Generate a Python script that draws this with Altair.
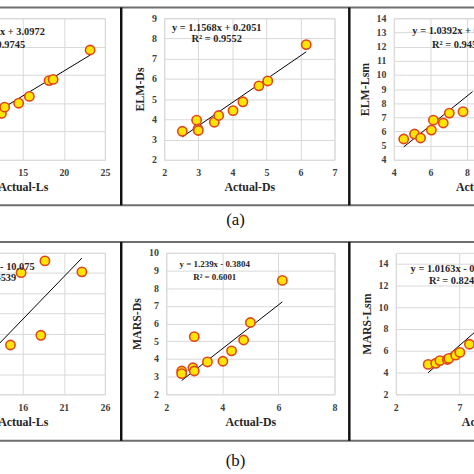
import altair as alt
import pandas as pd

FONT = "Liberation Serif"

# ---------------- values ----------------
# (a) ELM models : actual (x) vs predicted (y)
elm_ls_actual = [12.4, 12.8, 14.5, 15.8, 18.2, 18.7, 23.2]
elm_ls_pred = [13.2, 14.3, 15.0, 16.2, 19.0, 19.2, 24.4]
elm_ds_actual = [2.53, 2.95, 2.99, 3.00, 3.47, 3.60, 4.02, 4.31, 4.78, 5.04, 6.17]
elm_ds_pred = [3.41, 3.96, 3.52, 3.45, 3.86, 4.19, 4.43, 4.87, 5.66, 5.90, 7.70]
elm_lsm_actual = [4.54, 5.13, 5.46, 6.05, 6.16, 6.70, 7.03, 7.78]
elm_lsm_pred = [5.47, 5.82, 5.54, 6.10, 6.80, 6.60, 7.30, 7.40]

# (b) MARS models
mars_ls_actual = [14.5, 15.8, 18.2, 18.7, 23.2]
mars_ls_pred = [17.2, 35.1, 19.6, 38.0, 35.3]
mars_ds_actual = [2.55, 2.55, 2.95, 3.00, 3.00, 3.47, 4.02, 4.33, 4.76, 5.00, 6.14]
mars_ds_pred = [3.32, 3.17, 3.50, 3.32, 5.26, 3.83, 3.87, 4.46, 5.07, 6.06, 8.44]
mars_lsm_actual = [4.54, 5.13, 5.46, 6.05, 6.16, 6.70, 7.03, 7.78]
mars_lsm_pred = [4.75, 4.85, 5.10, 5.20, 5.30, 5.60, 5.85, 6.60]

# trend lines: slope, intercept, x start, x end
fit_elm_ls = [0.8790, 3.0972, 12.0, 23.2]
fit_elm_ds = [1.1568, 0.2051, 2.53, 6.17]
fit_elm_lsm = [1.0392, 0.1924, 4.54, 8.3]
fit_mars_ls = [2.1024, -10.075, 12.0, 23.2]
fit_mars_ds = [1.239, -0.3804, 2.55, 6.14]
fit_mars_lsm = [1.0163, -0.6254, 4.54, 8.2]

# equation labels
eq_elm_ls = ["y = 0.8790x + 3.0972", "R² = 0.9745"]
eq_elm_ds = ["y = 1.1568x + 0.2051", "R² = 0.9552"]
eq_elm_lsm = ["y = 1.0392x + 0.1924", "R² = 0.9451"]
eq_mars_ls = ["y = 2.1024x - 10.075", "R² = 0.4539"]
eq_mars_ds = ["y = 1.239x - 0.3804", "R² = 0.6001"]
eq_mars_lsm = ["y = 1.0163x - 0.6254", "R² = 0.8246"]

# axis tick values
xt_ls_a = [5, 10, 15, 20, 25]
yt_ls_a = [5, 10, 15, 20, 25, 30]
xt_ds_a = [2, 3, 4, 5, 6, 7]
yt_ds_a = [2, 3, 4, 5, 6, 7, 8, 9]
xt_lsm_a = [4, 6, 8, 10, 12, 14]
yt_lsm_a = [4, 5, 6, 7, 8, 9, 10, 11, 12, 13, 14]
xt_ls_b = [6, 11, 16, 21, 26]
yt_ls_b = [5, 10, 15, 20, 25, 30, 35, 40]
xt_ds_b = [2, 4, 6, 8]
yt_ds_b = [2, 3, 4, 5, 6, 7, 8, 9, 10]
xt_lsm_b = [2, 7, 12, 17]
yt_lsm_b = [2, 4, 6, 8, 10, 12, 14]

# axis titles
x_titles = ["Actual-Ls", "Actual-Ds", "Actual-Lsm"]
y_titles_a = ["ELM-Ls", "ELM-Ds", "ELM-Lsm"]
y_titles_b = ["MARS-Ls", "MARS-Ds", "MARS-Lsm"]
panel_labels = ["(a)", "(b)"]

MARK_FILL = "#FFE600"
MARK_STROKE = "#E0461C"
GRID = "#d9d9d9"

one = pd.DataFrame({"k": [0]})


def panel(xs, ys, fit, eq, xdom, xvals, ydom, yvals, xtitle, ytitle,
          w, h, eqpos, eqsize, extras=()):
    pts = pd.DataFrame({"x": xs, "y": ys})
    s, b, lo, hi = fit
    line = pd.DataFrame({"x": [lo, hi], "y": [s * lo + b, s * hi + b]})
    xsc = alt.Scale(domain=xdom, nice=False, zero=False)
    ysc = alt.Scale(domain=ydom, nice=False, zero=False)

    def xax():
        return alt.Axis(values=xvals, tickCount=len(xvals), title=xtitle,
                        grid=True, ticks=False, domain=False, labelPadding=8,
                        titlePadding=4, labelFlush=False, labelOverlap=False,
                        labelSeparation=0, format="d")

    def yax():
        return alt.Axis(values=yvals, tickCount=len(yvals), title=ytitle,
                        grid=True, ticks=False, domain=False, labelPadding=8,
                        titlePadding=5, labelOverlap=False, labelSeparation=0,
                        format="d")

    ln = alt.Chart(line).mark_line(color="black", strokeWidth=1).encode(
        x=alt.X("x:Q", scale=xsc, axis=xax()),
        y=alt.Y("y:Q", scale=ysc, axis=yax()),
    )
    pt = alt.Chart(pts).mark_circle(
        size=88, fill=MARK_FILL, stroke=MARK_STROKE, strokeWidth=1.6, opacity=1
    ).encode(
        x=alt.X("x:Q", scale=xsc, axis=xax()),
        y=alt.Y("y:Q", scale=ysc, axis=yax()),
    )
    cx, y1, y2 = eqpos
    t1 = alt.Chart(one).mark_text(
        font=FONT, fontSize=eqsize, fontWeight="bold", color="#262626",
        baseline="middle", align="center"
    ).encode(x=alt.value(cx), y=alt.value(y1), text=alt.value(eq[0]))
    t2 = alt.Chart(one).mark_text(
        font=FONT, fontSize=eqsize, fontWeight="bold", color="#262626",
        baseline="middle", align="center"
    ).encode(x=alt.value(cx), y=alt.value(y2), text=alt.value(eq[1]))
    return alt.layer(ln, pt, t1, t2, *extras).properties(width=w, height=h)


def frame_layers(vx1, vx2, top, bottom, label, lx, ly):
    vert = [
        alt.Chart(one).mark_rule(color="#111111", strokeWidth=2.5).encode(
            x=alt.value(v), y=alt.value(top), y2=alt.value(bottom))
        for v in (vx1, vx2)
    ]
    hor = [
        alt.Chart(one).mark_rule(color="#6e6e6e", strokeWidth=2).encode(
            x=alt.value(-300), x2=alt.value(320), y=alt.value(v))
        for v in (top, bottom)
    ]
    lab = alt.Chart(one).mark_text(
        font=FONT, fontSize=17, color="#111111", baseline="middle", align="center"
    ).encode(x=alt.value(lx), y=alt.value(ly), text=alt.value(label))
    return hor + vert + [lab]


# ---------------- row (a) ----------------
a1 = panel(elm_ls_actual, elm_ls_pred, fit_elm_ls, eq_elm_ls,
           [5, 25], xt_ls_a, [5, 30], yt_ls_a,
           x_titles[0], y_titles_a[0], 166, 143, (60, 14, 27), 10.5)
a2 = panel(elm_ds_actual, elm_ds_pred, fit_elm_ds, eq_elm_ds,
           [2, 7], xt_ds_a, [2, 9], yt_ds_a,
           x_titles[1], y_titles_a[1], 172, 143, (53, 10, 21), 10.5,
           frame_layers(-43.5, 187, -11, 189, panel_labels[0], 72, 204))
a3 = panel(elm_lsm_actual, elm_lsm_pred, fit_elm_lsm, eq_elm_lsm,
           [4, 14], xt_lsm_a, [4, 14], yt_lsm_a,
           x_titles[2], y_titles_a[2], 185, 143, (64, 13, 27), 10.5)

# ---------------- row (b) ----------------
b1 = panel(mars_ls_actual, mars_ls_pred, fit_mars_ls, eq_mars_ls,
           [6, 26], xt_ls_b, [5, 40], yt_ls_b,
           x_titles[0], y_titles_b[0], 166, 143, (51, 14, 25), 10.5)
b2 = panel(mars_ds_actual, mars_ds_pred, fit_mars_ds, eq_mars_ds,
           [2, 8], xt_ds_b, [2, 10], yt_ds_b,
           x_titles[1], y_titles_b[1], 170, 143, (49, 11, 24), 9,
           frame_layers(-45.5, 185, -11, 190, panel_labels[1], 70, 210))
b3 = panel(mars_lsm_actual, mars_lsm_pred, fit_mars_lsm, eq_mars_lsm,
           [2, 17], xt_lsm_b, [2, 15], yt_lsm_b,
           x_titles[2], y_titles_b[2], 193, 143, (59, 16, 29), 10.5)

row_a = alt.hconcat(a1, a2, a3, spacing=60, bounds="flush").resolve_scale(
    x="independent", y="independent")
row_b = alt.hconcat(b1, b2, b3, spacing=62, bounds="flush").resolve_scale(
    x="independent", y="independent")

chart = alt.vconcat(row_a, row_b, spacing=237, bounds="flush").resolve_scale(
    x="independent", y="independent"
).properties(
    padding={"left": -136, "top": 3, "right": -120, "bottom": 0},
    background="white",
).configure_view(
    stroke=GRID, strokeWidth=1
).configure_axis(
    gridColor=GRID, gridWidth=1, labelOverlap=False,
    labelFont=FONT, labelFontSize=10, labelFontWeight="bold", labelColor="#404040",
    titleFont=FONT, titleFontSize=12, titleFontWeight="bold", titleColor="#262626",
)

chart.save("out.html", embed_options={"renderer": "svg", "actions": False})
